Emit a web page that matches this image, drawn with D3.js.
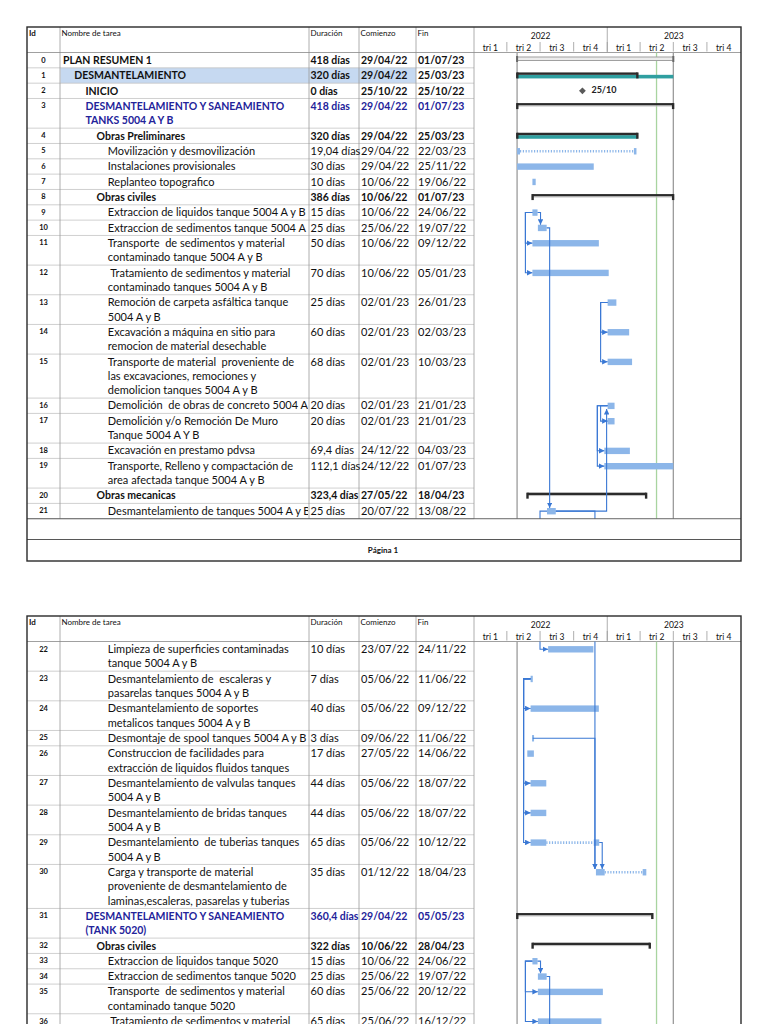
<!DOCTYPE html>
<html><head><meta charset="utf-8">
<script src="https://cdn.jsdelivr.net/npm/d3@7"></script>
<style>body{margin:0;background:#fff}svg{display:block}</style>
</head><body><svg id="c" width="768" height="1024"></svg>
<script>
// ---------------- DATA ----------------
const taskIds = [0,1,2,3,4,5,6,7,8,9,10,11,12,13,14,15,16,17,18,19,20,21,22,23,24,25,26,27,28,29,30,31,32,33,34,35,36];
const taskNames = [
 "PLAN RESUMEN 1",
 "DESMANTELAMIENTO",
 "INICIO",
 "DESMANTELAMIENTO Y SANEAMIENTO\nTANKS 5004 A Y B",
 "Obras Preliminares",
 "Movilización y desmovilización",
 "Instalaciones provisionales",
 "Replanteo topografico",
 "Obras civiles",
 "Extraccion de liquidos tanque 5004 A y B",
 "Extraccion de sedimentos tanque 5004 A",
 "Transporte  de sedimentos y material\ncontaminado tanque 5004 A y B",
 " Tratamiento de sedimentos y material\ncontaminado tanques 5004 A y B",
 "Remoción de carpeta asfáltica tanque\n5004 A y B",
 "Excavación a máquina en sitio para\nremocion de material desechable",
 "Transporte de material  proveniente de\nlas excavaciones, remociones y\ndemolicion tanques 5004 A y B",
 "Demolición  de obras de concreto 5004 A",
 "Demolición y/o Remoción De Muro\nTanque 5004 A Y B",
 "Excavación en prestamo pdvsa",
 "Transporte, Relleno y compactación de\narea afectada tanque 5004 A y B",
 "Obras mecanicas",
 "Desmantelamiento de tanques 5004 A y B",
 "Limpieza de superficies contaminadas\ntanque 5004 A y B",
 "Desmantelamiento de  escaleras y\npasarelas tanques 5004 A y B",
 "Desmantelamiento de soportes\nmetalicos tanques 5004 A y B",
 "Desmontaje de spool tanques 5004 A y B",
 "Construccìon de facilidades para\nextracción de liquidos fluidos tanques",
 "Desmantelamiento de valvulas tanques\n5004 A y B",
 "Desmantelamiento de bridas tanques\n5004 A y B",
 "Desmantelamiento  de tuberias tanques\n5004 A y B",
 "Carga y transporte de material\nproveniente de desmantelamiento de\nlaminas,escaleras, pasarelas y tuberias",
 "DESMANTELAMIENTO Y SANEAMIENTO\n(TANK 5020)",
 "Obras civiles",
 "Extraccion de liquidos tanque 5020",
 "Extraccion de sedimentos tanque 5020",
 "Transporte  de sedimentos y material\ncontaminado tanque 5020",
 " Tratamiento de sedimentos y material\ncontaminado tanque 5020"
];
const durations = ["418 días","320 días","0 días","418 días","320 días","19,04 días","30 días","10 días","386 días","15 días","25 días","50 días","70 días","25 días","60 días","68 días","20 días","20 días","69,4 días","112,1 días","323,4 días","25 días","10 días","7 días","40 días","3 días","17 días","44 días","44 días","65 días","35 días","360,4 días","322 días","15 días","25 días","60 días","65 días"];
const startDates = ["29/04/22","29/04/22","25/10/22","29/04/22","29/04/22","29/04/22","29/04/22","10/06/22","10/06/22","10/06/22","25/06/22","10/06/22","10/06/22","02/01/23","02/01/23","02/01/23","02/01/23","02/01/23","24/12/22","24/12/22","27/05/22","20/07/22","23/07/22","05/06/22","05/06/22","09/06/22","27/05/22","05/06/22","05/06/22","05/06/22","01/12/22","29/04/22","10/06/22","10/06/22","25/06/22","25/06/22","25/06/22"];
const endDates = ["01/07/23","25/03/23","25/10/22","01/07/23","25/03/23","22/03/23","25/11/22","19/06/22","01/07/23","24/06/22","19/07/22","09/12/22","05/01/23","26/01/23","02/03/23","10/03/23","21/01/23","21/01/23","04/03/23","01/07/23","18/04/23","13/08/22","24/11/22","11/06/22","09/12/22","11/06/22","14/06/22","18/07/22","18/07/22","10/12/22","18/04/23","05/05/23","28/04/23","24/06/22","19/07/22","20/12/22","16/12/22"];
const outlineLevels = [0,1,2,2,3,4,4,4,3,4,4,4,4,4,4,4,4,4,4,4,3,4,4,4,4,4,4,4,4,4,4,2,3,4,4,4,4];
const taskKinds = ["project","summary","milestone","summary","summary","task","task","task","summary","task","task","task","task","task","task","task","task","task","task","task","summary","task","task","task","task","task","task","task","task","task","task","summary","summary","task","task","task","task"];
const blueRows = [3,31];
const selectedRow = 1;
// teal (critical) bars under summaries
const tealRows = [1,4];
const tealEnds = ["01/07/23","25/03/23"];
// split tasks: first segment end, second segment start
const splitRows = [5,29,30];
const splitFirstEnd = ["07/05/22","18/07/22","25/12/22"];
const splitSecondStart = ["15/03/23","25/11/22","08/04/23"];
// dependency links [from, to, type]
const links = [
 [9,10,"FS"],[9,11,"SS"],[9,12,"SS"],[10,21,"FS"],
 [13,14,"SS"],[13,15,"SS"],
 [16,17,"SS"],[16,18,"SS"],[16,19,"SS"],
 [21,16,"FSup"],[21,22,"SS"],[21,30,"FSstart"],
 [23,24,"SS"],[23,27,"SS"],[23,28,"SS"],[23,29,"SS"],
 [25,30,"FSstart"],[29,30,"FS"],
 [33,34,"FS"],[33,35,"SS"],[33,36,"SS"],[34,null,"FS"]
];
const yearLabels = ["2022","2023"];
const quarterLabels = ["tri 1","tri 2","tri 3","tri 4","tri 1","tri 2","tri 3","tri 4"];
const timelineStart = "01/01/22", timelineEnd = "01/01/24";
const projectStart = "29/04/22", projectFinish = "01/07/23", statusDate = "16/05/23";
const headerLabels = ["Id","Nombre de tarea","Duración","Comienzo","Fin"];
const footerText = "Página 1";

// ---------------- LAYOUT ----------------
const parse = d3.timeParse("%d/%m/%y");
const svg = d3.select("#c");
const L=27, R=741, cId=60, cName=309, cDur=359, cStart=416, cGantt=474;
const colX = [L, cId, cName, cDur, cStart, cGantt];
const headH = 25.5, LH = 14.33;
const FONT = "Lato, 'Liberation Sans', Arial, sans-serif";
const BAR = "#8cb6e9", LINK = "#3a78d4", TEAL = "#2f9fa0";
const pages = [
 {top:27, bottom:561, first:0, last:21, footer:true},
 {top:616, bottom:1032, first:22, last:36, footer:false}
];
const x = d3.scaleTime().domain([parse(timelineStart), parse(timelineEnd)]).range([cGantt, 740.5]);

const tasks = taskIds.map((id,i)=>({
  id, name:taskNames[i], lines:taskNames[i].split("\n"), dur:durations[i],
  s:parse(startDates[i]), e:parse(endDates[i]), sTxt:startDates[i], eTxt:endDates[i],
  level:outlineLevels[i], kind:taskKinds[i], blue:blueRows.includes(id)
}));
pages.forEach((p,pi)=>{
  let y = p.top + headH;
  p.bodyTop = y;
  for(let i=p.first;i<=p.last;i++){
    const t = tasks[i];
    t.page = pi; t.top = y; t.h = 1 + LH*t.lines.length; t.cy = y + 7.7;
    y += t.h;
  }
  p.bodyBottom = Math.min(y, p.bottom);
});

const defs = svg.append("defs");
defs.append("marker").attr("id","arr").attr("viewBox","0 0 8 8").attr("refX",8).attr("refY",4)
  .attr("markerWidth",5.5).attr("markerHeight",5.5).attr("markerUnits","userSpaceOnUse").attr("orient","auto")
  .append("path").attr("d","M0,0L8,4L0,8Z").attr("fill",LINK);

pages.forEach((p,pi)=>{
  const g = svg.append("g");
  const rows = tasks.filter(t=>t.page===pi);
  defs.append("clipPath").attr("id","nameclip"+pi).append("rect")
    .attr("x",cId).attr("y",p.top).attr("width",cName-cId-1).attr("height",p.bottom-p.top);
  defs.append("clipPath").attr("id","ganttclip"+pi).append("rect")
    .attr("x",cGantt).attr("y",p.bodyTop).attr("width",R-cGantt).attr("height",p.bodyBottom-p.bodyTop);

  rows.filter(t=>t.id===selectedRow).forEach(t=>{
    g.append("rect").attr("x",cId+0.5).attr("y",t.top).attr("width",cStart-cId-0.5).attr("height",t.h).attr("fill","#c6d9f1");
  });
  g.selectAll(null).data(rows).enter().append("line")
    .attr("x1",L).attr("x2",cGantt).attr("y1",d=>d.top+d.h).attr("y2",d=>d.top+d.h)
    .attr("stroke","#c4c4c4").attr("stroke-width",0.8);
  g.selectAll(null).data(colX.slice(1)).enter().append("line")
    .attr("x1",d=>d).attr("x2",d=>d).attr("y1",p.top).attr("y2",p.bodyBottom)
    .attr("stroke","#9a9a9a").attr("stroke-width",0.8);
  g.append("line").attr("x1",L).attr("x2",R).attr("y1",p.bodyTop).attr("y2",p.bodyTop).attr("stroke","#888").attr("stroke-width",0.8);
  g.selectAll(null).data(headerLabels).enter().append("text")
    .attr("x",(d,i)=>colX[i]+ (i===0?2:1.5)).attr("y",p.top+9)
    .attr("font-family",FONT).attr("font-size",8).attr("font-weight",(d,i)=>i===0?"bold":"normal").attr("fill","#111").text(d=>d);
  const years = [parse("01/01/22"), parse("01/01/23")];
  g.selectAll(null).data(yearLabels).enter().append("text")
    .attr("x",(d,i)=>(x(years[i])+x(d3.timeYear.offset(years[i],1)))/2).attr("y",p.top+12)
    .attr("text-anchor","middle").attr("font-family",FONT).attr("font-size",8.5).attr("fill","#111").text(d=>d);
  g.append("line").attr("x1",x(years[1])).attr("x2",x(years[1])).attr("y1",p.top).attr("y2",p.bodyTop).attr("stroke","#9a9a9a").attr("stroke-width",0.8);
  const qStarts = x.ticks(d3.timeMonth.every(3)).slice(0,8);
  g.selectAll(null).data(qStarts.slice(1)).enter().append("line")
    .attr("x1",d=>x(d)).attr("x2",d=>x(d)).attr("y1",p.top+15).attr("y2",p.bodyTop-1)
    .attr("stroke","#9a9a9a").attr("stroke-width",0.8);
  g.selectAll(null).data(qStarts).enter().append("text")
    .attr("x",(d,i)=>(x(d)+x(d3.timeMonth.offset(d,3)))/2).attr("y",p.top+23.5)
    .attr("text-anchor","middle").attr("font-family",FONT).attr("font-size",8.5).attr("fill","#111").text((d,i)=>quarterLabels[i]);

  const col = t=> t.blue ? "#23239a" : "#111";
  const bold = t=> (t.kind!=="task") ? "bold":"normal";
  const fsz = t=> (t.kind!=="task") ? 10.5 : 11;
  g.selectAll(null).data(rows).enter().append("text")
    .attr("x",43.5).attr("y",d=>d.top+10).attr("text-anchor","middle")
    .attr("font-family",FONT).attr("font-size",7.5).attr("font-weight","bold").attr("fill","#111").text(d=>d.id);
  const nameG = g.append("g").attr("clip-path","url(#nameclip"+pi+")");
  rows.forEach(t=>{
    const tx = nameG.append("text").attr("font-family",FONT).attr("font-size",fsz(t))
      .attr("font-weight",bold(t)).attr("fill",col(t)).attr("xml:space","preserve");
    t.lines.forEach((ln,k)=>{
      tx.append("tspan").attr("x",63+t.level*11.2).attr("y",t.top+11.4+k*LH).text(ln);
    });
    [[t.dur,cName+1.5],[t.sTxt,cDur+2],[t.eTxt,cStart+2]].forEach(([s,xx])=>{
      g.append("text").attr("x",xx).attr("y",t.top+11.4).attr("font-family",FONT).attr("font-size",fsz(t))
        .attr("font-weight",bold(t)).attr("fill",col(t)).text(s);
    });
  });

  const gg = g.append("g").attr("clip-path","url(#ganttclip"+pi+")");
  [[projectStart,"#9b9b9b"],[projectFinish,"#9b9b9b"],[statusDate,"#a9d4a0"]].forEach(([d,c])=>{
    gg.append("line").attr("x1",x(parse(d))).attr("x2",x(parse(d))).attr("y1",p.bodyTop).attr("y2",p.bodyBottom)
      .attr("stroke",c).attr("stroke-width",1.3);
  });
  rows.forEach(t=>{
    const xs = x(t.s), xe = x(t.e), y0 = t.top;
    if(t.kind==="project"){
      gg.append("rect").attr("x",xs).attr("y",y0+4.5).attr("width",xe-xs).attr("height",3.5)
        .attr("fill","#ececec").attr("stroke","#a0a0a0").attr("stroke-width",1);
      [xs-1,xe-1].forEach(cx=>gg.append("rect").attr("x",cx).attr("y",y0+3.5).attr("width",2).attr("height",6).attr("fill","#6a6a6a"));
    } else if(t.kind==="summary"){
      const ti = tealRows.indexOf(t.id);
      if(ti>=0){
        gg.append("rect").attr("x",xs).attr("y",y0+7).attr("width",x(parse(tealEnds[ti]))-xs).attr("height",3.6).attr("fill",TEAL);
      }
      gg.append("rect").attr("x",xs).attr("y",y0+4.6).attr("width",xe-xs).attr("height",2.4).attr("fill","#2b2b2b");
      if(ti<0) gg.append("rect").attr("x",xs).attr("y",y0+7).attr("width",xe-xs).attr("height",1).attr("fill","#bdbdbd");
      [xs-1,xe-1.4].forEach(cx=>gg.append("rect").attr("x",cx).attr("y",y0+4.6).attr("width",2.4).attr("height",6).attr("fill","#2b2b2b"));
    } else if(t.kind==="milestone"){
      const cy = t.cy, r = 3.4;
      gg.append("path").attr("d",`M${xs},${cy-r}L${xs+r},${cy}L${xs},${cy+r}L${xs-r},${cy}Z`).attr("fill","#5a5a5a");
      gg.append("text").attr("x",xs+9).attr("y",cy+2.5).attr("font-family",FONT).attr("font-size",9)
        .attr("font-weight","bold").attr("fill","#222").text(d3.timeFormat("%d/%m")(t.s));
    } else {
      const si = splitRows.indexOf(t.id);
      const seg = (a,b)=>gg.append("rect").attr("x",a).attr("y",y0+4.6).attr("width",Math.max(2,b-a)).attr("height",6.4).attr("fill",BAR);
      if(si>=0){
        const a1 = x(parse(splitFirstEnd[si])), b1 = x(parse(splitSecondStart[si]));
        seg(xs,a1); seg(b1,xe);
        gg.append("line").attr("x1",a1).attr("x2",b1).attr("y1",y0+7.8).attr("y2",y0+7.8)
          .attr("stroke",BAR).attr("stroke-width",2.6).attr("stroke-dasharray","1.2,1.6");
      } else seg(xs,xe);
    }
  });
  const yOf = t => t.page===pi ? t.cy : (t.page>pi ? p.bodyBottom+200 : p.bodyTop-200);
  const topOf = t => t.page===pi ? t.top+4.6 : (t.page>pi ? p.bodyBottom+200 : p.bodyTop-200);
  const botOf = t => t.page===pi ? t.top+11 : (t.page>pi ? p.bodyBottom+200 : p.bodyTop-200);
  links.forEach(([f,to,type])=>{
    const a = tasks[f], b = to===null?null:tasks[to];
    let d, arrow = true;
    if(type==="SS"){
      const xv = Math.min(x(a.s),x(b.s)) - 7;
      d = `M${x(a.s)},${yOf(a)}H${xv}V${yOf(b)}H${x(b.s)}`;
    } else if(type==="FS"){
      const xv = x(a.e)+3;
      const yt = b ? topOf(b) : p.bodyBottom+200;
      if(!b) arrow=false;
      d = `M${x(a.e)},${yOf(a)}H${xv}V${yt}`;
    } else if(type==="FSup"){
      const xv = x(b.s)-1;
      d = `M${x(a.e)},${yOf(a)}H${xv}V${botOf(b)}`;
    } else if(type==="FSstart"){
      const xv = x(b.s)-1;
      d = `M${x(a.e)},${yOf(a)}H${xv}V${topOf(b)}`;
    }
    const pth = gg.append("path").attr("d",d).attr("fill","none").attr("stroke",LINK).attr("stroke-width",1.1);
    if(arrow) pth.attr("marker-end","url(#arr)");
  });

  if(p.footer){
    g.append("line").attr("x1",L).attr("x2",R).attr("y1",p.bodyBottom).attr("y2",p.bodyBottom).attr("stroke","#555").attr("stroke-width",0.9);
    g.append("line").attr("x1",L).attr("x2",R).attr("y1",539.5).attr("y2",539.5).attr("stroke","#444").attr("stroke-width",0.9);
    g.append("text").attr("x",383).attr("y",552.5).attr("text-anchor","middle").attr("font-family",FONT)
      .attr("font-size",8).attr("font-weight","bold").attr("fill","#111").text(footerText);
  }
  g.append("rect").attr("x",L).attr("y",p.top).attr("width",R-L).attr("height",p.bottom-p.top)
    .attr("fill","none").attr("stroke","#2a2a2a").attr("stroke-width",1.4);
});
</script></body></html>
